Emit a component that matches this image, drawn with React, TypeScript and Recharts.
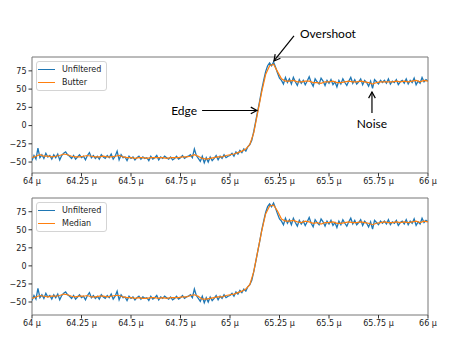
import React from 'react';
import { LineChart, Line, XAxis, YAxis, Legend, ReferenceArea, ReferenceLine } from 'recharts';

// sample grid: raw at 0.01 µ, filtered at 0.02 µ, starting at 64 µ
const rawStep = 0.01;
const filtStep = 0.02;
const tStart = 64;

const unfiltered = [
  -48, -41, -46, -31, -44, -40, -45, -38, -43, -41,
  -46, -40, -44, -39, -47, -41, -38, -36, -40, -42,
  -45, -41, -46, -43, -40, -44, -42, -47, -41, -37,
  -44, -41, -45, -42, -46, -40, -43, -45, -41, -44,
  -39, -46, -42, -35, -47, -40, -44, -43, -48, -42,
  -45, -43, -47, -44, -42, -46, -43, -45, -44, -48,
  -42, -46, -44, -41, -47, -43, -45, -42, -44, -46,
  -43, -47, -45, -42, -46, -44, -41, -45, -43, -42,
  -40, -44, -32, -41, -45, -49, -42, -51, -44, -50,
  -43, -48, -45, -41, -47, -42, -45, -40, -44, -42,
  -41, -38, -42, -36, -39, -34, -37, -32, -35, -29,
  -26, -20, -8, 6, 20, 34, 49, 62, 74, 82,
  86, 82, 87, 80, 72, 65, 62, 57, 66, 59,
  64, 57, 66, 60, 55, 63, 58, 62, 56, 61,
  67, 59, 54, 64, 60, 57, 65, 61, 55, 62,
  58, 63, 56, 60, 53, 62, 57, 64, 59, 55,
  61, 66, 58, 63, 57, 60, 64, 56, 62, 59,
  54, 61, 51, 63, 60, 57, 62, 59, 62, 58,
  64, 57, 61, 59, 63, 56, 60, 62, 58, 64,
  57, 62, 59, 65, 56, 61, 58, 66, 60, 63,
  61,
];

const butter = [
  -44, -42, -40, -42, -42, -43, -42, -41, -39, -40,
  -42, -43, -43, -42, -41, -42, -43, -43, -42, -43,
  -43, -42, -41, -43, -44, -44, -45, -44, -44, -45,
  -44, -44, -44, -44, -45, -44, -44, -44, -43, -43,
  -42, -40, -42, -45, -46, -45, -44, -43, -43, -41,
  -40, -39, -37, -35, -32, -26, -10, 18, 46, 70,
  82, 84, 74, 64, 61, 61, 62, 60, 60, 61,
  61, 59, 59, 58, 60, 60, 61, 59, 59, 60,
  61, 60, 60, 61, 60, 59, 57, 59, 60, 60,
  60, 60, 61, 60, 61, 60, 61, 62, 60, 62,
  61,
];

const median = [
  -45, -43, -41, -42, -43, -42, -42, -41, -39, -40,
  -42, -43, -42, -42, -41, -43, -43, -42, -42, -43,
  -42, -41, -41, -43, -44, -44, -45, -44, -45, -45,
  -44, -44, -45, -44, -45, -44, -44, -44, -43, -43,
  -41, -40, -42, -46, -46, -45, -44, -43, -43, -41,
  -40, -39, -37, -35, -32, -26, -8, 20, 48, 72,
  83, 84, 76, 65, 62, 62, 63, 61, 60, 62,
  61, 59, 60, 58, 60, 60, 61, 59, 59, 60,
  61, 60, 60, 61, 60, 59, 57, 59, 60, 61,
  60, 60, 61, 60, 61, 60, 61, 62, 60, 62,
  61,
];

const xTicks = [64, 64.25, 64.5, 64.75, 65, 65.25, 65.5, 65.75, 66];
const yTicks = [-50, -25, 0, 25, 50, 75];

const annotations = [
  { text: 'Overshoot', from: { x: 65.323, y: 122.8 }, to: { x: 65.222, y: 88.6 }, anchor: 'start', dx: 6, dy: -2 },
  { text: 'Edge', from: { x: 64.859, y: 20.7 }, to: { x: 65.136, y: 20.7 }, anchor: 'end', dx: -5, dy: 0 },
  { text: 'Noise', from: { x: 65.717, y: 17.3 }, to: { x: 65.717, y: 46 }, anchor: 'middle', dx: 0, dy: 11 },
];

const toSeries = (vals: number[], step: number) =>
  vals.map((v, i) => ({ t: +(tStart + i * step).toFixed(2), v }));

const rawData = toSeries(unfiltered, rawStep);

const BLUE = '#1f77b4';
const ORANGE = '#ff7f0e';
const tickFont = { fontFamily: 'DejaVu Sans', fontSize: 8, fill: '#1a1a1a' };

const fmtY = (v: number) => (v < 0 ? '\u2212' + Math.abs(v) : String(v));
const fmtX = (v: number) => `${v} µ`;

const arrowShape = (a: any) => (p: any) => {
  const { x1, y1, x2, y2 } = p;
  const ang = Math.atan2(y2 - y1, x2 - x1);
  const len = 7;
  const spread = 0.5;
  const hx1 = x2 - len * Math.cos(ang - spread);
  const hy1 = y2 - len * Math.sin(ang - spread);
  const hx2 = x2 - len * Math.cos(ang + spread);
  const hy2 = y2 - len * Math.sin(ang + spread);
  return (
    <g>
      <line x1={x1} y1={y1} x2={x2} y2={y2} stroke="#000" strokeWidth={1.2} />
      <polyline points={`${hx1},${hy1} ${x2},${y2} ${hx2},${hy2}`} fill="none" stroke="#000" strokeWidth={1.2} />
      <text x={x1 + a.dx} y={y1 + a.dy} textAnchor={a.anchor} dominantBaseline="central"
        style={{ fontFamily: 'Lato', fontSize: 12, fill: '#000' }}>{a.text}</text>
    </g>
  );
};

// keep plotting order (unfiltered first) instead of the alphabetical default
const legendContent = (props: any) => {
  const items = [...(props.payload || [])].sort((a: any, b: any) =>
    (a.value === 'Unfiltered' ? 0 : 1) - (b.value === 'Unfiltered' ? 0 : 1));
  return (
    <div style={{
      border: '1px solid #d4d4d4', borderRadius: 3, background: 'rgba(255,255,255,0.8)',
      padding: '1px 5px 1px 1px', fontFamily: 'DejaVu Sans', fontSize: 8, lineHeight: '13px', color: '#1a1a1a',
    }}>
      {items.map((e: any) => (
        <div key={e.value} style={{ display: 'flex', alignItems: 'center' }}>
          <span style={{ display: 'inline-block', width: 17, borderTop: `1.5px solid ${e.color}`, marginRight: 7 }} />
          {e.value}
        </div>
      ))}
    </div>
  );
};

type PanelProps = {
  top: number;
  height: number;
  marginTop: number;
  marginBottom: number;
  domain: [number, number];
  filtered: number[];
  filteredName: string;
  legendTop: number;
  notes?: typeof annotations;
};

const Panel = ({ top, height, marginTop, marginBottom, domain, filtered, filteredName, legendTop, notes }: PanelProps) => (
  <div style={{ position: 'absolute', left: 0, top }}>
    <LineChart width={474} height={height} margin={{ top: marginTop, right: 46, bottom: marginBottom, left: 0 }}>
      <XAxis type="number" dataKey="t" domain={[64, 66]} ticks={xTicks} tickFormatter={fmtX}
        allowDataOverflow axisLine={false} tickSize={3.5} tickMargin={2} height={17}
        tick={tickFont} tickLine={{ stroke: '#333' }} interval={0} />
      <YAxis type="number" domain={domain} ticks={yTicks} tickFormatter={fmtY}
        allowDataOverflow axisLine={false} tickSize={3.5} tickMargin={2} width={32}
        tick={tickFont} tickLine={{ stroke: '#333' }} interval={0} />
      <Line data={rawData} dataKey="v" name="Unfiltered" stroke={BLUE} strokeWidth={1.3}
        dot={false} isAnimationActive={false} type="linear" />
      <Line data={toSeries(filtered, filtStep)} dataKey="v" name={filteredName} stroke={ORANGE} strokeWidth={1.2}
        dot={false} isAnimationActive={false} type="linear" />
      <ReferenceArea x1={64} x2={66} y1={domain[0]} y2={domain[1]} fill="none" stroke="#777" strokeWidth={1} />
      {(notes || []).map((a) => (
        <ReferenceLine key={a.text} segment={[a.from, a.to]} ifOverflow="visible" shape={arrowShape(a)} />
      ))}
      <Legend layout="vertical" align="center" verticalAlign="middle" content={legendContent}
        wrapperStyle={{ left: 36, top: legendTop, width: 'auto', height: 'auto' }} />
    </LineChart>
  </div>
);

export default function App() {
  return (
    <div style={{ position: 'absolute', left: 0, top: 0, width: 474, height: 355, background: '#fff' }}>
      <Panel top={0} height={190} marginTop={57} marginBottom={0} domain={[-65, 94]}
        filtered={butter} filteredName="Butter" legendTop={61} notes={annotations} />
      <Panel top={190} height={165} marginTop={8} marginBottom={23} domain={[-68, 94]}
        filtered={median} filteredName="Median" legendTop={12} />
    </div>
  );
}
